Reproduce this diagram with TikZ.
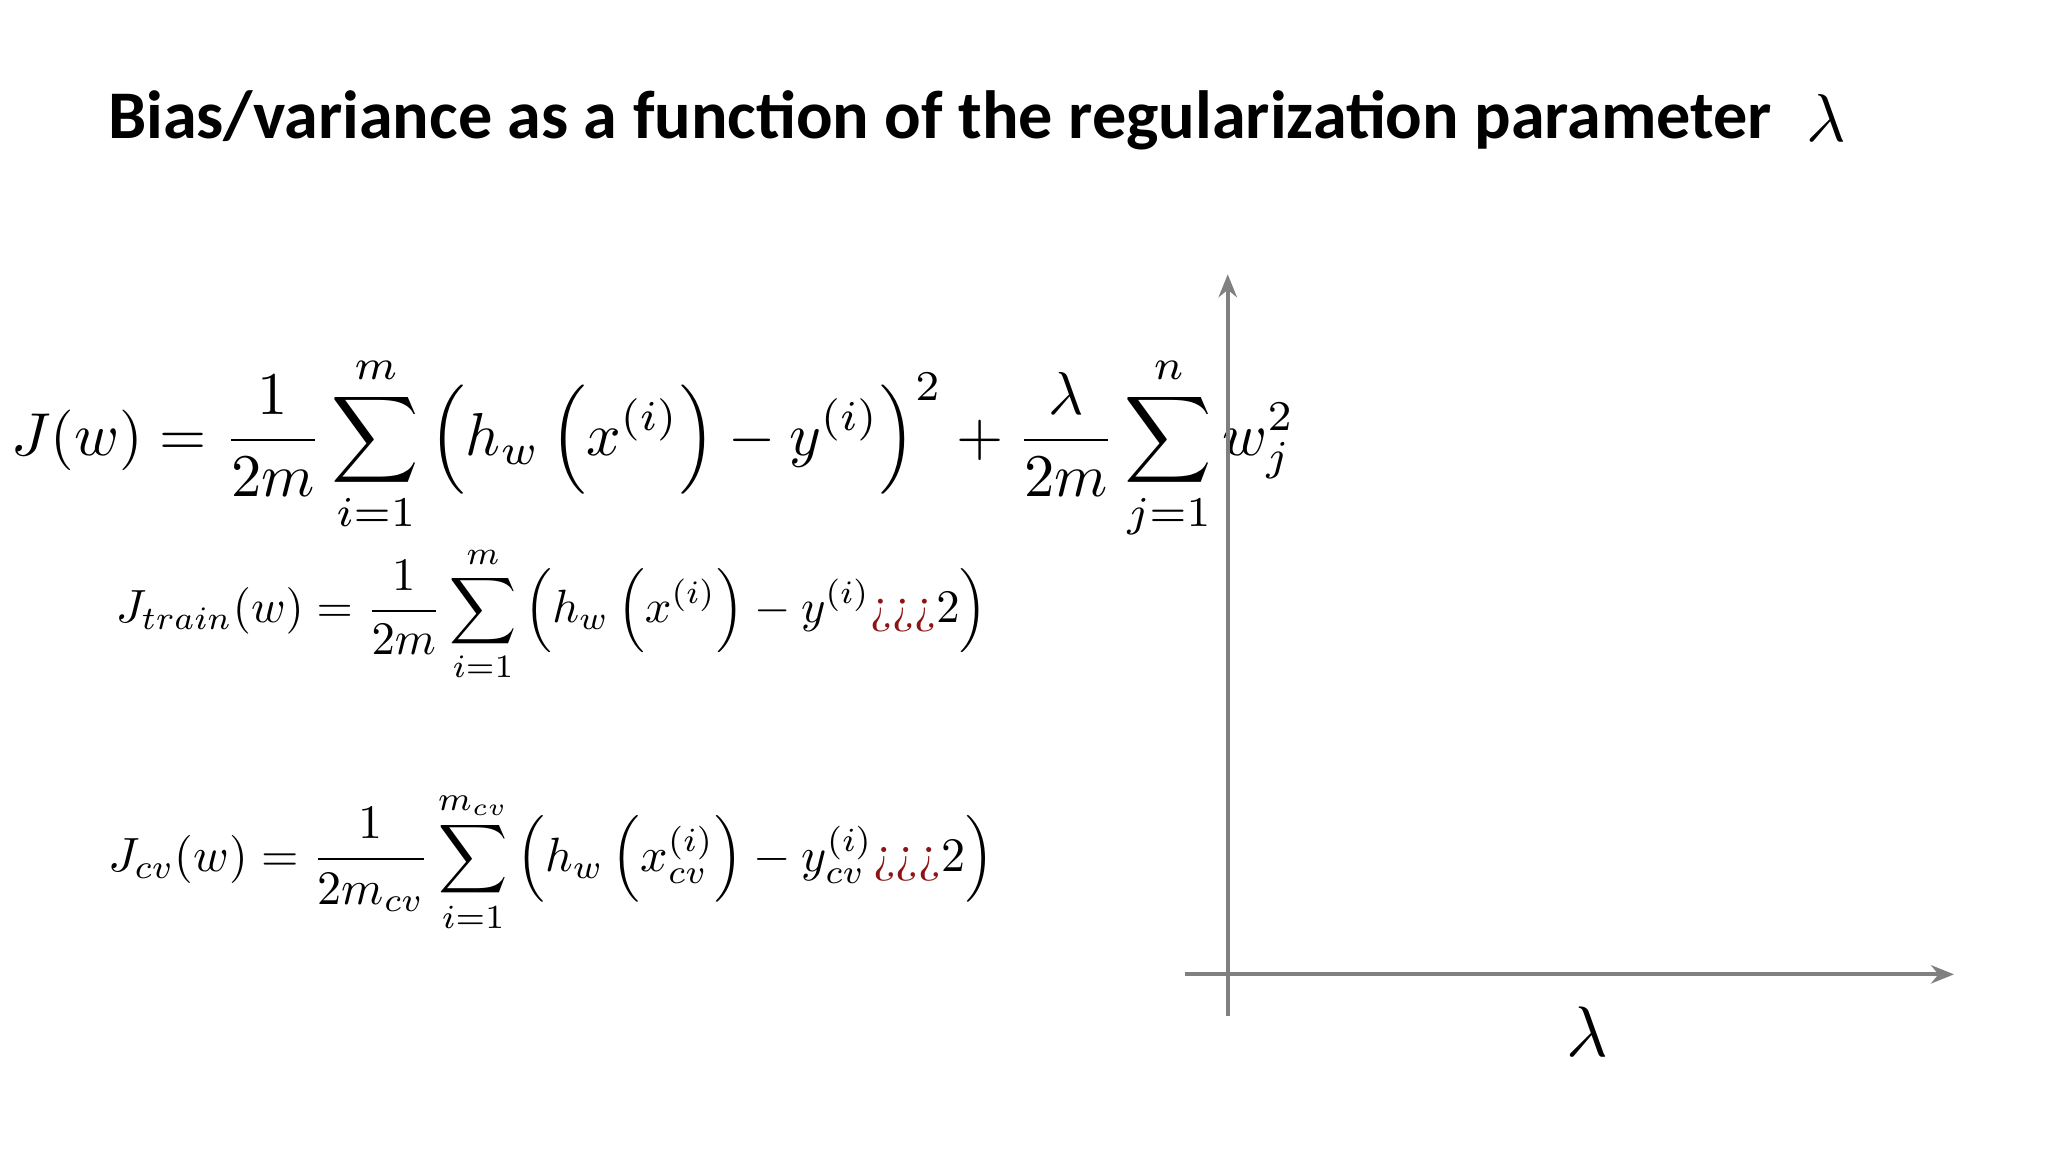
\documentclass[tikz,border=0pt]{standalone}
\usepackage{fontspec}
\usepackage{amsmath}
\newfontfamily\titlefont{Carlito}
\definecolor{axgray}{RGB}{128,128,128}
\definecolor{qred}{RGB}{140,20,20}
\tikzset{eq/.style={inner sep=0pt,anchor=west}, ax/.style={draw=axgray,line width=0.9pt,-{Stealth[length=5pt,width=4pt,open]}}}
\usetikzlibrary{arrows.meta}
\begin{document}
\begin{tikzpicture}[x=0.01cm,y=-0.01cm]
\useasboundingbox (0,0) rectangle (1568,882);
\node[eq] (title) at (82,92) {\resizebox{12.73cm}{!}{\titlefont\bfseries Bias/variance as a function of the regularization parameter}};
\node[inner sep=0pt] (tl) at (1398,90) {\resizebox{!}{0.36cm}{$\lambda$}};
\node[eq] (e1) at (8,343) {\resizebox{9.82cm}{!}{$\displaystyle J(w)=\frac{1}{2m}\sum_{i=1}^{m}\left(h_w\left(x^{(i)}\right)-y^{(i)}\right)^2+\frac{\lambda}{2m}\sum_{j=1}^{n}w_j^2$}};
\node[eq] (e2) at (88,470) {\resizebox{6.67cm}{!}{$\displaystyle J_{train}(w)=\frac{1}{2m}\sum_{i=1}^{m}\left(h_w\left(x^{(i)}\right)-y^{(i)}\mbox{\color{qred}¿¿¿}2\right)$}};
\node[eq] (e3) at (82,660) {\resizebox{6.78cm}{!}{$\displaystyle J_{cv}(w)=\frac{1}{2m_{cv}}\sum_{i=1}^{m_{cv}}\left(h_w\left(x_{cv}^{(i)}\right)-y_{cv}^{(i)}\mbox{\color{qred}¿¿¿}2\right)$}};
\coordinate (o1) at (940,778);
\coordinate (yt) at (940,210);
\coordinate (o2) at (907,746);
\coordinate (xt) at (1496,746);
\draw[ax] (o1) -- (yt);
\draw[ax] (o2) -- (xt);
\node[inner sep=0pt] (xl) at (1215,790) {\resizebox{!}{0.38cm}{$\lambda$}};
\end{tikzpicture}
\end{document}
